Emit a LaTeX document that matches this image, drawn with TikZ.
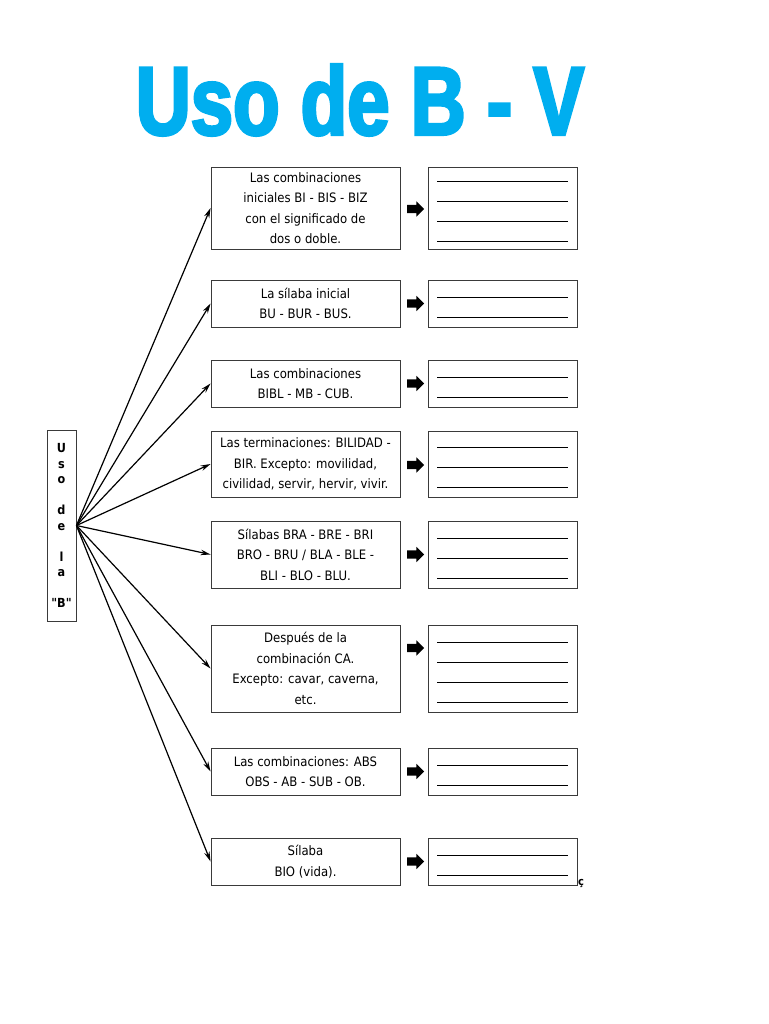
\documentclass[tikz,border=0pt]{standalone}
\usepackage{fontspec}
\setmainfont{DejaVu Sans Condensed}
\newfontfamily\titlefont[FakeStretch=0.785,FakeBold=3]{Liberation Sans Bold}
\usetikzlibrary{arrows.meta, shapes.arrows}
\definecolor{mycyan}{HTML}{00AEEF}
\definecolor{myline}{HTML}{3A3A3A}
\newcommand{\blank}{\strut\rule{131pt}{0.7pt}}
\tikzset{
	rulenode/.style={
			draw=myline,
			line width=0.9pt,
			minimum width=189pt,
			inner sep=0pt,
			align=center,
			font=\fontsize{13}{20.5}\selectfont
		},
	blanknode/.style={
			rulenode,
			minimum width=149pt,
			font=\fontsize{11.5}{20}\selectfont
		},
	usonode/.style={
			rulenode,
			minimum width=29pt,
			minimum height=191pt,
			font=\bfseries\fontsize{12.5}{15.5}\selectfont
		},
	pointnode/.style={
			single arrow,
			fill=black,
			inner sep=0pt,
			minimum height=17pt,
			single arrow head extend=3.5pt,
			single arrow head indent=0pt
		},
	linkline/.style={
			line width=1.2pt,
			-{Stealth[length=10pt,width=5.5pt]}
		}
}

\begin{document}
\begin{tikzpicture}[x=1pt,y=-1pt]
\useasboundingbox (0,0) rectangle (768,1024);

\node[text=mycyan, font=\titlefont\fontsize{97}{97}\selectfont] (title) at (360,100) {Uso de B - V};

\node[usonode] (uso) at (61.5,525.5) {U\\s\\o\\ \\d\\e\\ \\l\\a\\ \\\textquotedbl B\textquotedbl};

\node[rulenode, minimum height=82pt] (r1) at (305.5,208) {Las combinaciones\\iniciales BI - BIS - BIZ\\con el significado de\\dos o doble.};
\node[rulenode, minimum height=47pt] (r2) at (305.5,303.5) {La sílaba inicial\\BU - BUR - BUS.};
\node[rulenode, minimum height=47pt] (r3) at (305.5,383.5) {Las combinaciones\\BIBL - MB - CUB.};
\node[rulenode, minimum height=66pt] (r4) at (305.5,464) {Las terminaciones: BILIDAD -\\BIR. Excepto: movilidad,\\civilidad, servir, hervir, vivir.};
\node[rulenode, minimum height=67pt] (r5) at (305.5,554.5) {Sílabas BRA - BRE - BRI\\BRO - BRU / BLA - BLE -\\BLI - BLO - BLU.};
\node[rulenode, minimum height=87pt] (r6) at (305.5,668.5) {Después de la\\combinación CA.\\Excepto: cavar, caverna,\\etc.};
\node[rulenode, minimum height=47pt] (r7) at (305.5,771.5) {Las combinaciones: ABS\\OBS - AB - SUB - OB.};
\node[rulenode, minimum height=47pt] (r8) at (305.5,861.5) {Sílaba\\BIO (vida).};

\node[pointnode] (p1) at (413.5,209) {\rule{0pt}{8pt}};
\node[pointnode] (p2) at (413.5,303.5) {\rule{0pt}{8pt}};
\node[pointnode] (p3) at (413.5,383.5) {\rule{0pt}{8pt}};
\node[pointnode] (p4) at (413.5,465) {\rule{0pt}{8pt}};
\node[pointnode] (p5) at (413.5,554.5) {\rule{0pt}{8pt}};
\node[pointnode] (p6) at (413.5,648) {\rule{0pt}{8pt}};
\node[pointnode] (p7) at (413.5,771.5) {\rule{0pt}{8pt}};
\node[pointnode] (p8) at (413.5,861.5) {\rule{0pt}{8pt}};

\node[blanknode, minimum height=82pt] (b1) at (502.5,208) {\blank\\\blank\\\blank\\\blank};
\node[blanknode, minimum height=47pt] (b2) at (502.5,303.5) {\blank\\\blank};
\node[blanknode, minimum height=47pt] (b3) at (502.5,383.5) {\blank\\\blank};
\node[blanknode, minimum height=66pt] (b4) at (502.5,464) {\blank\\\blank\\\blank};
\node[blanknode, minimum height=67pt] (b5) at (502.5,554.5) {\blank\\\blank\\\blank};
\node[blanknode, minimum height=87pt] (b6) at (502.5,668.5) {\blank\\\blank\\\blank\\\blank};
\node[blanknode, minimum height=47pt] (b7) at (502.5,771.5) {\blank\\\blank};
\node[blanknode, minimum height=47pt] (b8) at (502.5,861.5) {\blank\\\blank};

\node[font=\bfseries\fontsize{11}{11}\selectfont, inner sep=0pt] (mark) at (581,883) {ç};

% enlaces desde la caja izquierda
\draw[linkline] (uso.east) -- (r1.west);
\draw[linkline] (uso.east) -- (r2.west);
\draw[linkline] (uso.east) -- (r3.west);
\draw[linkline] (uso.east) -- (r4.west);
\draw[linkline] (uso.east) -- (r5.west);
\draw[linkline] (uso.east) -- (r6.west);
\draw[linkline] (uso.east) -- (r7.west);
\draw[linkline] (uso.east) -- (r8.west);

\end{tikzpicture}
\end{document}
